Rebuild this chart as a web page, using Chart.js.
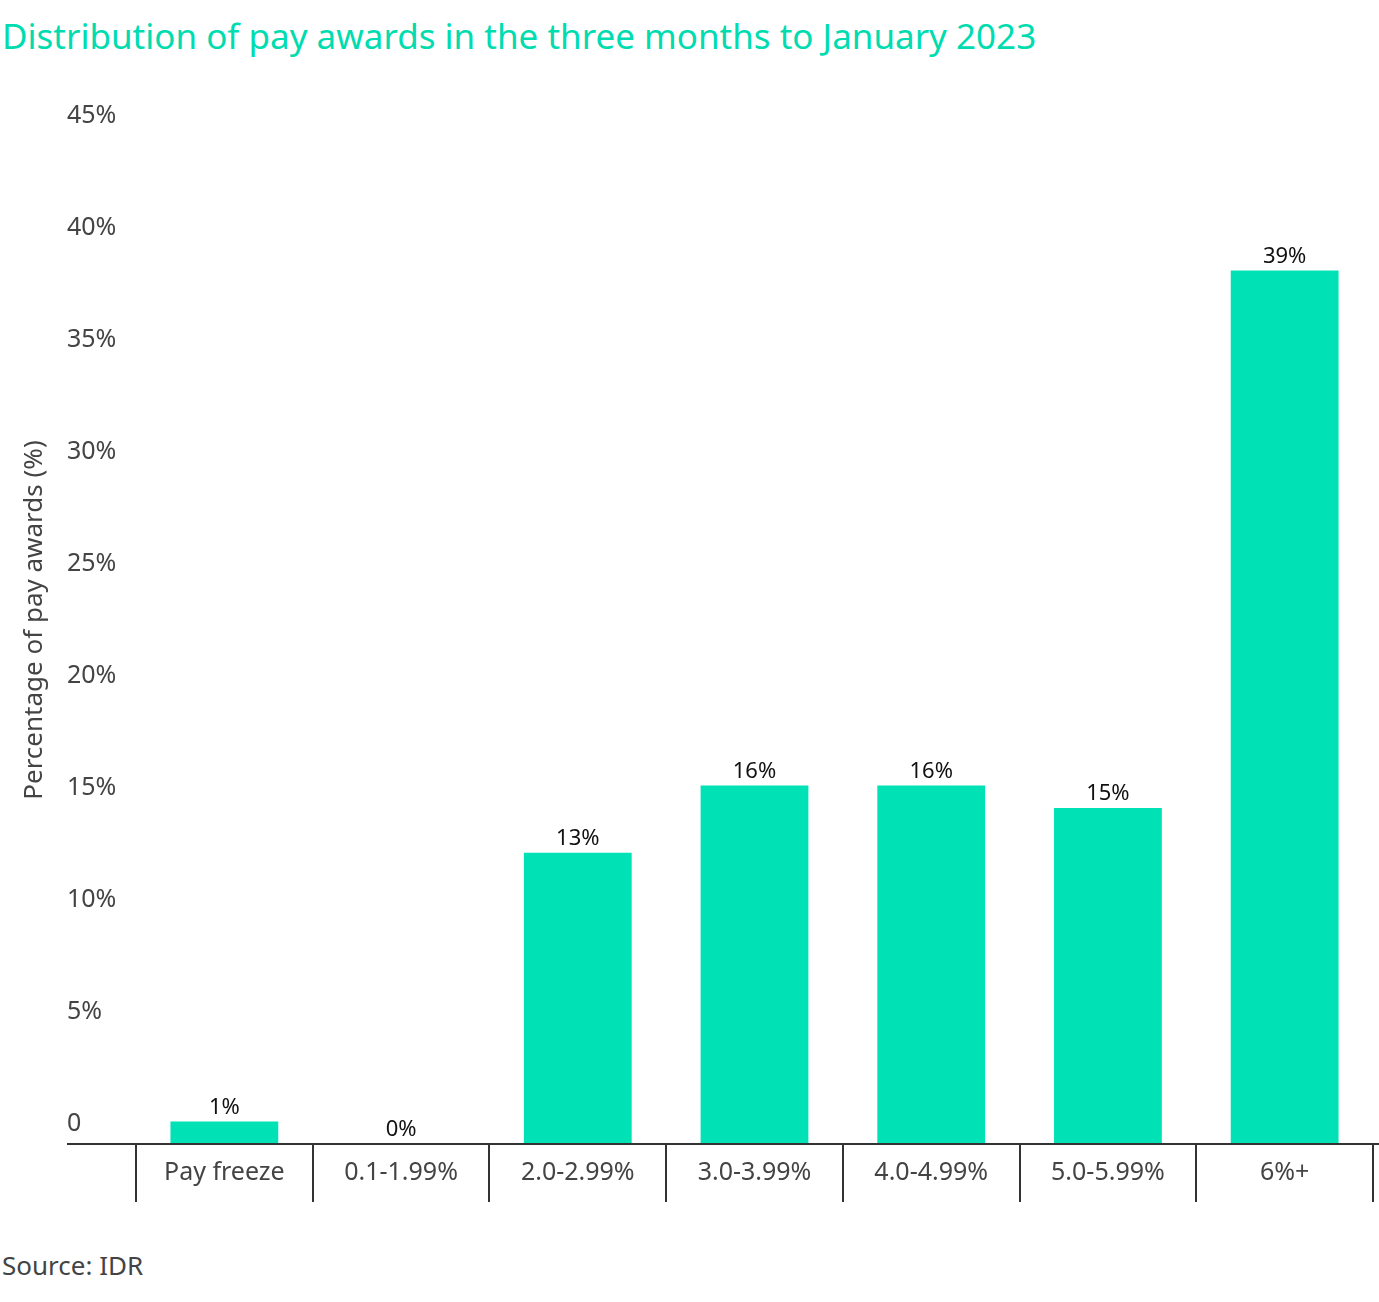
<!DOCTYPE html>
<html>
<head>
<meta charset="utf-8">
<script src="https://cdn.jsdelivr.net/npm/chart.js@4.4.0/dist/chart.umd.min.js"></script>
<style>
  body { margin: 0; background: #fff; font-family: "Noto Sans", sans-serif; }
  #title { position: absolute; left: 2px; top: 12px; font-size: 35px; color: #00dcb0; }
  #wrap { position: absolute; left: 0; top: 70px; width: 1379px; height: 1160px; }
  #source { position: absolute; left: 2px; top: 1247px; font-size: 26px; color: #444; }
</style>
</head>
<body>
<div id="title">Distribution of pay awards in the three months to January 2023</div>
<div id="wrap"><canvas id="chart"></canvas></div>
<div id="source">Source: IDR</div>
<script>
const categories = ["Pay freeze", "0.1-1.99%", "2.0-2.99%", "3.0-3.99%", "4.0-4.99%", "5.0-5.99%", "6%+"];
const shares = [1, 0, 13, 16, 16, 15, 39];
const yTicks = [0, 5, 10, 15, 20, 25, 30, 35, 40, 45];

// baseline, y title and value labels
const extras = {
  id: "extras",
  afterDraw(chart) {
    const { ctx, scales: { x, y } } = chart;
    const y0 = y.getPixelForValue(0);
    ctx.save();
    ctx.strokeStyle = "#333";
    ctx.lineWidth = 2;
    ctx.beginPath();
    ctx.moveTo(67, y0);
    ctx.lineTo(chart.width, y0);
    ctx.stroke();

    ctx.fillStyle = "#444";
    ctx.font = "26px 'Noto Sans'";
    ctx.textAlign = "center";
    ctx.textBaseline = "middle";
    ctx.translate(35, 550);
    ctx.rotate(-Math.PI / 2);
    ctx.fillText("Percentage of pay awards (%)", 0, 0);
    ctx.restore();

    ctx.save();
    ctx.fillStyle = "#111";
    ctx.font = "22px 'Noto Sans'";
    ctx.textAlign = "center";
    ctx.textBaseline = "bottom";
    chart.getDatasetMeta(0).data.forEach((bar, i) => {
      ctx.fillText(shares[i] + "%", bar.x, bar.y - 3);
    });
    ctx.restore();
  }
};

new Chart(document.getElementById("chart"), {
  type: "bar",
  data: {
    labels: categories,
    datasets: [{ data: shares, backgroundColor: "#00e2b6", barPercentage: 0.61, categoryPercentage: 1 }]
  },
  options: {
    responsive: true,
    maintainAspectRatio: false,
    animation: false,
    layout: { padding: { left: 67, right: 6, top: 66, bottom: 0 } },
    plugins: { legend: { display: false }, tooltip: { enabled: false } },
    scales: {
      x: {
        offset: true,
        border: { display: false },
        grid: { offset: true, drawOnChartArea: false, drawTicks: true, tickLength: 58, color: "#333", lineWidth: 2 },
        ticks: { padding: -44, color: "#444", font: { family: "Noto Sans", size: 25 } },
        afterFit(s) { s.height = 86; }
      },
      y: {
        min: 0, max: 45,
        afterBuildTicks(s) { s.ticks = yTicks.map(v => ({ value: v })); },
        border: { display: false },
        grid: { display: false },
        ticks: {
          crossAlign: "far",
          labelOffset: -20,
          color: "#444",
          font: { family: "Noto Sans", size: 25 },
          callback: v => v === 0 ? "0" : v + "%"
        },
        afterFit(s) { s.width = 69; }
      }
    }
  },
  plugins: [extras]
});
</script>
</body>
</html>
